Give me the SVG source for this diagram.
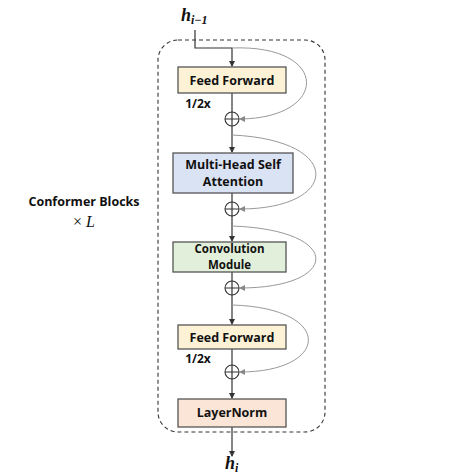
<svg xmlns="http://www.w3.org/2000/svg" width="474" height="474" viewBox="0 0 474 474">
<defs>
<marker id="ah" markerWidth="6" markerHeight="6" refX="5" refY="3" orient="auto" markerUnits="userSpaceOnUse"><path d="M0,0 L6,3 L0,6 z" fill="#333"/></marker>
<marker id="ag" markerWidth="6" markerHeight="6" refX="5" refY="3" orient="auto" markerUnits="userSpaceOnUse"><path d="M0,0 L6,3 L0,6 z" fill="#888"/></marker>
<style>
.box{stroke:#555;stroke-width:1.3}
.lbl{font-family:"Open Sans","Liberation Sans",sans-serif;font-weight:bold;font-size:12.5px;fill:#111;text-anchor:middle}
.main{stroke:#333;stroke-width:1.2;fill:none}
.skip{stroke:#999;stroke-width:1;fill:none}
.sum{stroke:#333;stroke-width:1.1;fill:#fff}
.math{font-family:"Liberation Serif",serif;font-style:italic;font-weight:bold;fill:#111}
</style>
</defs>
<rect x="158" y="40" width="167" height="392" rx="20" ry="20" fill="none" stroke="#333" stroke-width="1.1" stroke-dasharray="4,3"/>
<g id="connectors">
<path class="main" d="M195,30 V48 H232 V66" marker-end="url(#ah)"/>
<path class="main" d="M232,93 V112"/>
<path class="main" d="M232,126 V152" marker-end="url(#ah)"/>
<path class="main" d="M232,193 V202"/>
<path class="main" d="M232,216 V241" marker-end="url(#ah)"/>
<path class="main" d="M232,272 V281"/>
<path class="main" d="M232,295 V324" marker-end="url(#ah)"/>
<path class="main" d="M232,349 V365"/>
<path class="main" d="M232,379 V398" marker-end="url(#ah)"/>
<path class="main" d="M232,427 V456" marker-end="url(#ah)"/>
<path class="skip" d="M232,48 C330,44 330,118 240,119" marker-end="url(#ag)"/>
<path class="skip" d="M232,135 C345,140 340,209 240,209" marker-end="url(#ag)"/>
<path class="skip" d="M232,226 C345,230 340,288 240,288" marker-end="url(#ag)"/>
<path class="skip" d="M232,305 C335,308 330,372 240,372" marker-end="url(#ag)"/>
</g>
<g id="ff1"><rect class="box" x="178" y="67" width="108" height="26" fill="#FDF2D6"/><text class="lbl" x="232" y="85">Feed Forward</text></g>
<text id="half1" class="lbl" x="198" y="108" style="font-size:12px">1/2x</text>
<g id="sum1"><circle class="sum" cx="232" cy="119" r="7"/><path class="main" d="M225,119 H239 M232,112 V126"/></g>
<g id="mhsa"><rect class="box" x="173" y="153" width="120" height="40" fill="#DAE3F3"/><text class="lbl" x="233" y="169">Multi-Head Self</text><text class="lbl" x="233" y="186">Attention</text></g>
<g id="sum2"><circle class="sum" cx="232" cy="209" r="7"/><path class="main" d="M225,209 H239 M232,202 V216"/></g>
<g id="conv"><rect class="box" x="173" y="242" width="113" height="30" fill="#E2EFDA"/><text class="lbl" x="229.5" y="253" style="font-size:11.5px">Convolution</text><text class="lbl" x="229.5" y="269" style="font-size:11.5px">Module</text></g>
<g id="sum3"><circle class="sum" cx="232" cy="288" r="7"/><path class="main" d="M225,288 H239 M232,281 V295"/></g>
<g id="ff2"><rect class="box" x="178" y="325" width="108" height="24" fill="#FDF2D6"/><text class="lbl" x="232" y="342">Feed Forward</text></g>
<text id="half2" class="lbl" x="198" y="363" style="font-size:12px">1/2x</text>
<g id="sum4"><circle class="sum" cx="232" cy="372" r="7"/><path class="main" d="M225,372 H239 M232,365 V379"/></g>
<g id="ln"><rect class="box" x="178" y="399" width="108" height="28" fill="#FBE5D6"/><text class="lbl" x="232" y="417">LayerNorm</text></g>
<g id="input"><text class="math" x="181" y="21" font-size="18">h<tspan font-size="12" dy="3">i−1</tspan></text></g>
<g id="output"><text class="math" x="225" y="469" font-size="18">h<tspan font-size="12" dy="3">i</tspan></text></g>
<g id="blocks"><text class="lbl" x="84" y="206">Conformer Blocks</text><text x="84" y="227" font-family="Liberation Serif,serif" font-size="16" text-anchor="middle" fill="#111">× <tspan font-style="italic">L</tspan></text></g>
</svg>
